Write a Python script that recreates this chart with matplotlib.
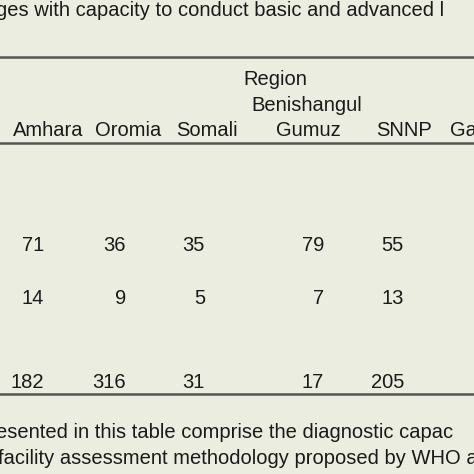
import matplotlib
matplotlib.use("Agg")
import matplotlib.pyplot as plt
from matplotlib.lines import Line2D

columns = ["Amhara", "Oromia", "Somali", "Gumuz", "SNNP", "Ga"]
row1 = [71, 36, 35, 79, 55]
row2 = [14, 9, 5, 7, 13]
row3 = [182, 316, 31, 17, 205]
title_text = "ges with capacity to conduct basic and advanced l"
footer1 = "esented in this table comprise the diagnostic capac"
footer2 = "facility assessment methodology proposed by WHO a"

bg = "#ecede1"
fig = plt.figure(figsize=(4.74, 4.74), dpi=100, facecolor=bg)
ax = fig.add_axes([0, 0, 1, 1])
ax.set_facecolor(bg)
ax.set_xlim(0, 474)
ax.set_ylim(474, 0)
ax.axis("off")
fs = 14.5
kw = dict(fontsize=fs, family="Liberation Sans", color="#1a1a1a", va="center")

ax.text(-4, 10, title_text, ha="left", **kw)
for y in (57, 143, 394):
    ax.add_line(Line2D([0, 474], [y, y], color="#555555", lw=1.8))

ax.text(243, 79, "Region", ha="left", **kw)
ax.text(307, 105, "Benishangul", ha="center", **kw)
hx = [48, 128, 207, 308, 404, 450]
for x, c in zip(hx, columns):
    ax.text(x, 130, c, ha="left" if c == "Ga" else "center", **kw)

rx = [44, 126, 205, 324, 404]
for y, row in zip((245, 298, 383), (row1, row2, row3)):
    for x, v in zip(rx, row):
        ax.text(x, y, str(v), ha="right", **kw)

ax.text(-4, 433, footer1, ha="left", **kw)
ax.text(-2, 458, footer2, ha="left", **kw)
fig.savefig("out.png", dpi=100, facecolor=bg)
